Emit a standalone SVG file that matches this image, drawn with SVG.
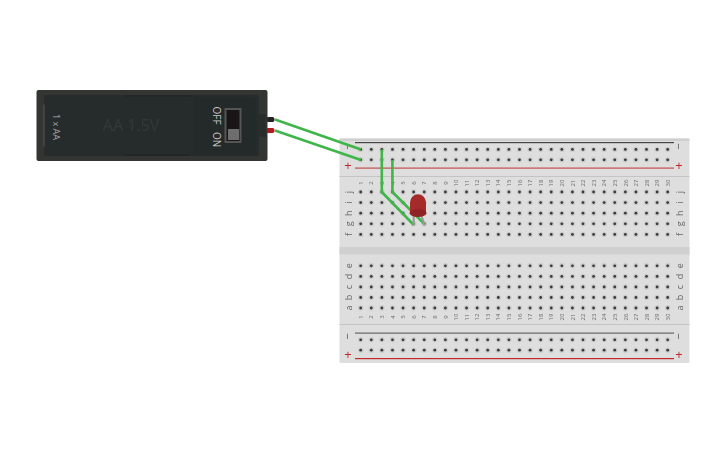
<svg xmlns="http://www.w3.org/2000/svg" xmlns:xlink="http://www.w3.org/1999/xlink" width="725" height="453" viewBox="0 0 725 453">
<style>
text{font-family:"Open Sans","Noto Sans","Liberation Sans",sans-serif}
.n{font-size:6px;fill:#666;text-anchor:middle}
.l{font-size:9px;fill:#666;text-anchor:middle}
.m{font-size:11px;fill:#555;text-anchor:middle}
.p{font-size:13px;fill:#c0282a;text-anchor:middle}
.w{fill:none;stroke:#3fb54a;stroke-width:2.6;stroke-linejoin:round}
.lead{stroke:#9a9a9a;stroke-width:2.2;fill:none}
</style>
<defs>
<g id="hole"><circle r="2.7" fill="#c4c4c4" opacity=".7"/><circle r="1.4" fill="#3a3a3a"/></g>
<g id="row">
<use xlink:href="#hole" x="360.7"/><use xlink:href="#hole" x="371.29"/><use xlink:href="#hole" x="381.87"/><use xlink:href="#hole" x="392.46"/><use xlink:href="#hole" x="403.04"/><use xlink:href="#hole" x="413.63"/><use xlink:href="#hole" x="424.22"/><use xlink:href="#hole" x="434.8"/><use xlink:href="#hole" x="445.39"/><use xlink:href="#hole" x="455.97"/><use xlink:href="#hole" x="466.56"/><use xlink:href="#hole" x="477.15"/><use xlink:href="#hole" x="487.73"/><use xlink:href="#hole" x="498.32"/><use xlink:href="#hole" x="508.9"/><use xlink:href="#hole" x="519.49"/><use xlink:href="#hole" x="530.08"/><use xlink:href="#hole" x="540.66"/><use xlink:href="#hole" x="551.25"/><use xlink:href="#hole" x="561.83"/><use xlink:href="#hole" x="572.42"/><use xlink:href="#hole" x="583.01"/><use xlink:href="#hole" x="593.59"/><use xlink:href="#hole" x="604.18"/><use xlink:href="#hole" x="614.76"/><use xlink:href="#hole" x="625.35"/><use xlink:href="#hole" x="635.94"/><use xlink:href="#hole" x="646.52"/><use xlink:href="#hole" x="657.11"/><use xlink:href="#hole" x="667.7"/>
</g>
</defs>
<rect width="725" height="453" fill="#fff"/>
<g id="breadboard">
<rect x="339.5" y="138.5" width="350" height="224.5" rx="1.5" fill="#dedede"/>
<rect x="339.5" y="138.5" width="350" height="2.5" fill="#cfcfcf"/>
<rect x="339.5" y="176" width="350" height="1" fill="#c4c4c4"/>
<rect x="339.5" y="324" width="350" height="1" fill="#c4c4c4"/>
<rect x="339.5" y="247" width="350" height="7.5" fill="#d0d0d0"/>
<rect x="355" y="142" width="319" height="1.200" fill="#444"/>
<rect x="355" y="167.500" width="319" height="1.200" fill="#c0504d"/>
<rect x="355" y="332.500" width="319" height="1.200" fill="#666"/>
<rect x="355" y="358" width="319" height="1.200" fill="#c0282a"/>
<use xlink:href="#row" y="149.4"/><use xlink:href="#row" y="159.8"/>
<use xlink:href="#row" y="192"/><use xlink:href="#row" y="202.6"/><use xlink:href="#row" y="213.2"/><use xlink:href="#row" y="223.8"/><use xlink:href="#row" y="234.4"/>
<use xlink:href="#row" y="265.8"/><use xlink:href="#row" y="276.4"/><use xlink:href="#row" y="287"/><use xlink:href="#row" y="297.5"/><use xlink:href="#row" y="308"/>
<use xlink:href="#row" y="339.8"/><use xlink:href="#row" y="350.2"/>
<g id="rail-marks" opacity=".99">
<text class="m" transform="translate(351 146.500) rotate(-90)">−</text><text class="p" x="348" y="169.500">+</text><text class="m" transform="translate(682 146.500) rotate(-90)">−</text><text class="p" x="679" y="169.500">+</text>
<text class="m" transform="translate(351 336.500) rotate(-90)">−</text><text class="p" x="348" y="358.500">+</text><text class="m" transform="translate(682 336.500) rotate(-90)">−</text><text class="p" x="679" y="358.500">+</text>
</g>
<g id="letters" opacity=".99">
<text class="l" transform="translate(352 192) rotate(-90)">j</text><text class="l" transform="translate(352 202.6) rotate(-90)">i</text><text class="l" transform="translate(352 213.2) rotate(-90)">h</text><text class="l" transform="translate(352 223.8) rotate(-90)">g</text><text class="l" transform="translate(352 234.4) rotate(-90)">f</text>
<text class="l" transform="translate(683 192) rotate(-90)">j</text><text class="l" transform="translate(683 202.6) rotate(-90)">i</text><text class="l" transform="translate(683 213.2) rotate(-90)">h</text><text class="l" transform="translate(683 223.8) rotate(-90)">g</text><text class="l" transform="translate(683 234.4) rotate(-90)">f</text>
<text class="l" transform="translate(352 265.8) rotate(-90)">e</text><text class="l" transform="translate(352 276.4) rotate(-90)">d</text><text class="l" transform="translate(352 287) rotate(-90)">c</text><text class="l" transform="translate(352 297.5) rotate(-90)">b</text><text class="l" transform="translate(352 308) rotate(-90)">a</text>
<text class="l" transform="translate(683 265.8) rotate(-90)">e</text><text class="l" transform="translate(683 276.4) rotate(-90)">d</text><text class="l" transform="translate(683 287) rotate(-90)">c</text><text class="l" transform="translate(683 297.5) rotate(-90)">b</text><text class="l" transform="translate(683 308) rotate(-90)">a</text>
</g>
<g id="numbers-top" opacity=".99">
<text class="n" transform="translate(362.8 183) rotate(-90)">1</text><text class="n" transform="translate(373.4 183) rotate(-90)">2</text><text class="n" transform="translate(384 183) rotate(-90)">3</text><text class="n" transform="translate(394.6 183) rotate(-90)">4</text><text class="n" transform="translate(405.1 183) rotate(-90)">5</text><text class="n" transform="translate(415.7 183) rotate(-90)">6</text><text class="n" transform="translate(426.3 183) rotate(-90)">7</text><text class="n" transform="translate(436.9 183) rotate(-90)">8</text><text class="n" transform="translate(447.5 183) rotate(-90)">9</text><text class="n" transform="translate(458.1 183) rotate(-90)">10</text><text class="n" transform="translate(468.7 183) rotate(-90)">11</text><text class="n" transform="translate(479.3 183) rotate(-90)">12</text><text class="n" transform="translate(489.8 183) rotate(-90)">13</text><text class="n" transform="translate(500.4 183) rotate(-90)">14</text><text class="n" transform="translate(511 183) rotate(-90)">15</text><text class="n" transform="translate(521.6 183) rotate(-90)">16</text><text class="n" transform="translate(532.2 183) rotate(-90)">17</text><text class="n" transform="translate(542.8 183) rotate(-90)">18</text><text class="n" transform="translate(553.4 183) rotate(-90)">19</text><text class="n" transform="translate(563.9 183) rotate(-90)">20</text><text class="n" transform="translate(574.5 183) rotate(-90)">21</text><text class="n" transform="translate(585.1 183) rotate(-90)">22</text><text class="n" transform="translate(595.7 183) rotate(-90)">23</text><text class="n" transform="translate(606.3 183) rotate(-90)">24</text><text class="n" transform="translate(616.9 183) rotate(-90)">25</text><text class="n" transform="translate(627.5 183) rotate(-90)">26</text><text class="n" transform="translate(638 183) rotate(-90)">27</text><text class="n" transform="translate(648.6 183) rotate(-90)">28</text><text class="n" transform="translate(659.2 183) rotate(-90)">29</text><text class="n" transform="translate(669.8 183) rotate(-90)">30</text>
</g>
<g id="numbers-bottom" opacity=".99">
<text class="n" transform="translate(362.8 317) rotate(-90)">1</text><text class="n" transform="translate(373.4 317) rotate(-90)">2</text><text class="n" transform="translate(384 317) rotate(-90)">3</text><text class="n" transform="translate(394.6 317) rotate(-90)">4</text><text class="n" transform="translate(405.1 317) rotate(-90)">5</text><text class="n" transform="translate(415.7 317) rotate(-90)">6</text><text class="n" transform="translate(426.3 317) rotate(-90)">7</text><text class="n" transform="translate(436.9 317) rotate(-90)">8</text><text class="n" transform="translate(447.5 317) rotate(-90)">9</text><text class="n" transform="translate(458.1 317) rotate(-90)">10</text><text class="n" transform="translate(468.7 317) rotate(-90)">11</text><text class="n" transform="translate(479.3 317) rotate(-90)">12</text><text class="n" transform="translate(489.8 317) rotate(-90)">13</text><text class="n" transform="translate(500.4 317) rotate(-90)">14</text><text class="n" transform="translate(511 317) rotate(-90)">15</text><text class="n" transform="translate(521.6 317) rotate(-90)">16</text><text class="n" transform="translate(532.2 317) rotate(-90)">17</text><text class="n" transform="translate(542.8 317) rotate(-90)">18</text><text class="n" transform="translate(553.4 317) rotate(-90)">19</text><text class="n" transform="translate(563.9 317) rotate(-90)">20</text><text class="n" transform="translate(574.5 317) rotate(-90)">21</text><text class="n" transform="translate(585.1 317) rotate(-90)">22</text><text class="n" transform="translate(595.7 317) rotate(-90)">23</text><text class="n" transform="translate(606.3 317) rotate(-90)">24</text><text class="n" transform="translate(616.9 317) rotate(-90)">25</text><text class="n" transform="translate(627.5 317) rotate(-90)">26</text><text class="n" transform="translate(638 317) rotate(-90)">27</text><text class="n" transform="translate(648.6 317) rotate(-90)">28</text><text class="n" transform="translate(659.2 317) rotate(-90)">29</text><text class="n" transform="translate(669.8 317) rotate(-90)">30</text>
</g>
</g>
<g id="battery">
<rect x="266" y="117" width="8.500" height="5" rx="2" fill="#222"/>
<rect x="266" y="128" width="8.500" height="5" rx="2" fill="#b01c1c"/>
<rect x="36.500" y="90" width="231" height="71" rx="2" fill="#333533"/>
<rect x="44" y="95" width="215" height="61" rx="2" fill="#262b2b"/>
<path d="M125 95h65v2h-65zM125 154h65v2h-65z" fill="#222626"/>
<path d="M44 104.500v42" stroke="#555" stroke-width="1" fill="none"/>
<rect x="194" y="97" width="62" height="57" rx="2" fill="#242929"/>
<rect x="259" y="114" width="7" height="23" fill="#2b2c2c"/>
<rect x="224.500" y="108" width="17" height="35" fill="#555"/>
<rect x="226.500" y="110" width="13" height="31" fill="#1a1618"/>
<rect x="228" y="129" width="11" height="11" fill="#6e6e6e"/>
<text transform="translate(213 106.500) rotate(90)" font-size="10" fill="#c8c8c8">OFF</text>
<text transform="translate(213 132) rotate(90)" font-size="10" fill="#c8c8c8">ON</text>
<text transform="translate(53 114) rotate(90)" font-size="9" fill="#aaa">1 x AA</text>
<text x="131" y="131" font-size="16" fill="#333a3a" text-anchor="middle">AA 1.5V</text>
</g>
<g id="connectors">
<path class="w" d="M275 119.500L361 149.500"/>
<path class="w" d="M275 130.500L361 160"/>
<path class="w" d="M381.800 149.500V192L413.800 225"/>
<path class="w" d="M392.400 160V192L424.400 224"/>
</g>
<g id="led">
<path class="lead" d="M413.700 214V225.500M421 214L424.500 225.500"/>
<path d="M410 213V202.500a8 8.300 0 0 1 16 0V213z" fill="#a52a2a"/>
<ellipse cx="418" cy="213" rx="8.500" ry="4" fill="#8f2326"/>
</g>
</svg>
